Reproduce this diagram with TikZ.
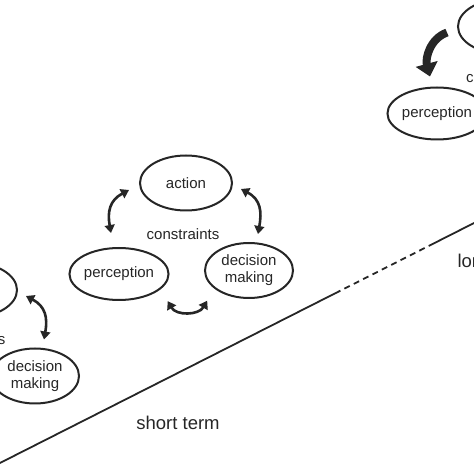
\documentclass[tikz,border=0pt]{standalone}
\usepackage{fontspec}
\setmainfont{Liberation Sans}
\usetikzlibrary{shapes.geometric,arrows.meta}
\begin{document}
\begin{tikzpicture}[x=1pt,y=1pt,
    every node/.style={text=black!85, font=\fontsize{15}{17}\selectfont},
    phase/.style={ellipse, draw=black!85, line width=2pt, inner sep=0pt, align=center},
    cycarrow/.style={black!85, line width=2.6pt,
      {Triangle[length=8pt,width=10pt]}-{Triangle[length=8pt,width=10pt]}},
    bigarrow/.style={black!85, line width=8pt, -{Triangle[length=13pt,width=22pt]}},
    axisline/.style={black!85, line width=1.8pt},
    termtext/.style={font=\fontsize{18.5}{20}\selectfont}]
    \useasboundingbox (0,0) rectangle (474,474);
    \clip (0,0) rectangle (474,474);

    \node[phase, minimum width=92pt, minimum height=55pt] (act) at (186,291) {action};
    \node[phase, minimum width=84pt, minimum height=52pt] (per) at (119,200) {perception};
    \node[phase, minimum width=88pt, minimum height=55pt] (dec) at (249,203.5) {decision\\making};
    \node (con) at (183,240) {constraints};

    \draw[cycarrow] ([shift={(-10pt,-7pt)}]act.west) to[out=208,in=100,looseness=1.2] ([shift={(-8pt,14pt)}]per.north);
    \draw[cycarrow] ([shift={(8pt,-6pt)}]act.east) to[out=-28,in=80,looseness=1.2] ([shift={(9pt,8pt)}]dec.north);
    \draw[cycarrow] ([shift={(13pt,-8pt)}]per.south east) to[out=-60,in=-120,looseness=1.1] ([shift={(-10pt,-10pt)}]dec.south west);

    \node[phase, minimum width=92pt, minimum height=55pt] (act2) at (-29,184) {action};
    \node[phase, minimum width=88pt, minimum height=55pt] (dec2) at (35,98) {decision\\making};
    \node (con2) at (-31,135) {constraints};

    \draw[cycarrow] ([shift={(8pt,-6pt)}]act2.east) to[out=-28,in=80,looseness=1.2] ([shift={(9pt,8pt)}]dec2.north);

    \node[phase, minimum width=92pt, minimum height=55pt] (act3) at (504,447.5) {action};
    \node[phase, minimum width=84pt, minimum height=52pt] (per3) at (437,360.5) {perception};
    \node (con3) at (502.5,397) {constraints};

    \draw[bigarrow] ([shift={(-10pt,-6pt)}]act3.west) to[out=200,in=105] ([shift={(-7pt,10pt)}]per3.north);

    \coordinate (b0) at (-5,8.5);
    \coordinate (b1) at (335,180.6);
    \coordinate (b2) at (432,229.7);
    \coordinate (b3) at (480,254);
    \draw[axisline] (b0) -- (b1);
    \draw[axisline, dash pattern=on 6pt off 4.5pt] (b1) -- (b2);
    \draw[axisline] (b2) -- (b3);

    \node[termtext] (st) at (178,51) {short term};
    \node[termtext, anchor=west] (lt) at (454,211) {long term};
  \end{tikzpicture}
\end{document}
